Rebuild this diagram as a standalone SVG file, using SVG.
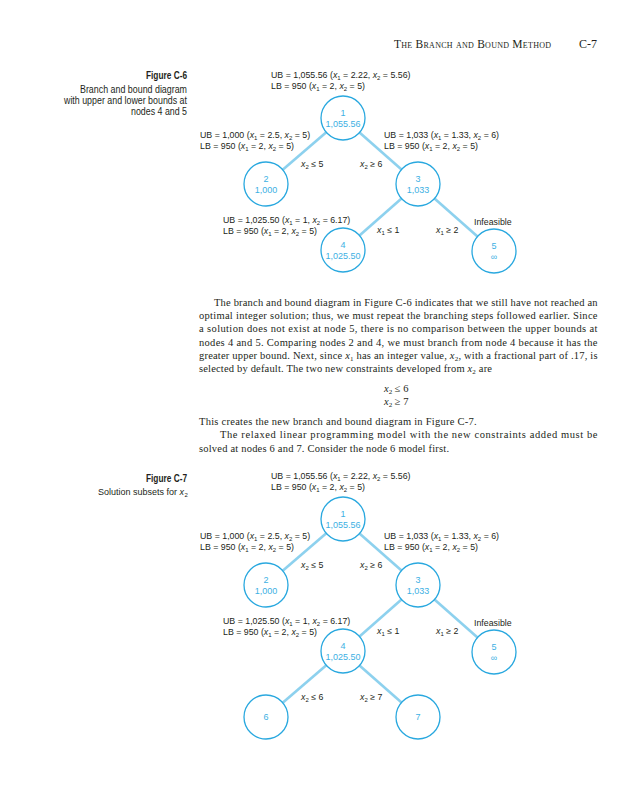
<svg xmlns="http://www.w3.org/2000/svg" width="638" height="798" viewBox="0 0 638 798">
<style>
.bg{fill:#ffffff}
.node circle{fill:#ffffff;stroke:#29a8df;stroke-width:1.3}
.nt{font-family:"Liberation Sans",Arial,sans-serif;font-size:9px;fill:#3db0e3;text-anchor:middle}
.lbl{font-family:"Liberation Sans",Arial,sans-serif;font-size:8.8px;fill:#231f20}
.edges line{stroke:#8dd1ee;stroke-width:2.6;stroke-linecap:butt}
.body{font-family:"Liberation Serif","Times New Roman",serif;font-size:10.5px;fill:#231f20}
.cap{font-family:"Liberation Sans Narrow","Liberation Sans",Arial,sans-serif;font-size:10.5px;fill:#231f20}
.capb{font-family:"Liberation Sans Narrow","Liberation Sans",Arial,sans-serif;font-size:10.5px;font-weight:bold;fill:#231f20}
.caps{font-family:"Liberation Sans Narrow","Liberation Sans",Arial,sans-serif;font-size:9px;fill:#231f20}
.hdr{font-family:"Liberation Serif","Times New Roman",serif;font-size:11.5px;fill:#231f20}
.i{font-style:italic}
.sb{font-size:6px}
.sbs{font-size:7px}
</style>
<rect class="bg" x="0" y="0" width="638" height="798"/>

<!-- header -->
<text class="hdr" x="394" y="48" style="font-variant:small-caps" textLength="157" lengthAdjust="spacing">The Branch and Bound Method</text>
<text class="hdr" x="597" y="48" text-anchor="end" style="font-size:12px">C-7</text>

<!-- Figure C-6 caption -->
<g id="caption-c6">
<text class="capb" x="146" y="78.5" textLength="41" lengthAdjust="spacingAndGlyphs">Figure C-6</text>
<text class="cap" x="80" y="92.5" textLength="107" lengthAdjust="spacingAndGlyphs">Branch and bound diagram</text>
<text class="cap" x="64" y="103.5" textLength="123" lengthAdjust="spacingAndGlyphs">with upper and lower bounds at</text>
<text class="cap" x="131" y="114.5" textLength="56" lengthAdjust="spacingAndGlyphs">nodes 4 and 5</text>
</g>

<!-- Figure C-6 connectors -->
<g id="edges-c6" class="edges">
<line x1="326.3" y1="132.3" x2="282.7" y2="169.7"/>
<line x1="359.5" y1="132.5" x2="401.5" y2="169.5"/>
<line x1="401.5" y1="198.5" x2="359.5" y2="235.5"/>
<line x1="434.5" y1="198.5" x2="477.5" y2="236.5"/>
</g>

<!-- Figure C-6 nodes -->
<g id="c6-node1" class="node"><circle cx="343" cy="118" r="22"/><text class="nt" x="343" y="115.5">1</text><text class="nt" x="343" y="126.5">1,055.56</text></g>
<g id="c6-node2" class="node"><circle cx="266" cy="184" r="22"/><text class="nt" x="266" y="181.5">2</text><text class="nt" x="266" y="192.5">1,000</text></g>
<g id="c6-node3" class="node"><circle cx="418" cy="184" r="22"/><text class="nt" x="418" y="181.5">3</text><text class="nt" x="418" y="192.5">1,033</text></g>
<g id="c6-node4" class="node"><circle cx="343" cy="250" r="22"/><text class="nt" x="343" y="247.5">4</text><text class="nt" x="343" y="258.5">1,025.50</text></g>
<g id="c6-node5" class="node"><circle cx="494" cy="251" r="22"/><text class="nt" x="494" y="248.5">5</text><text class="nt" x="494" y="259.5">∞</text></g>

<!-- Figure C-6 labels -->
<g id="labels-c6">
<text class="lbl" x="271" y="78">UB = 1,055.56 (<tspan class="i">x</tspan><tspan class="sb" dy="2">1</tspan><tspan dy="-2"> = 2.22, </tspan><tspan class="i">x</tspan><tspan class="sb" dy="2">2</tspan><tspan dy="-2"> = 5.56)</tspan></text>
<text class="lbl" x="271" y="88.5">LB = 950 (<tspan class="i">x</tspan><tspan class="sb" dy="2">1</tspan><tspan dy="-2"> = 2, </tspan><tspan class="i">x</tspan><tspan class="sb" dy="2">2</tspan><tspan dy="-2"> = 5)</tspan></text>
<text class="lbl" x="200" y="138.2">UB = 1,000 (<tspan class="i">x</tspan><tspan class="sb" dy="2">1</tspan><tspan dy="-2"> = 2.5, </tspan><tspan class="i">x</tspan><tspan class="sb" dy="2">2</tspan><tspan dy="-2"> = 5)</tspan></text>
<text class="lbl" x="200" y="148.7">LB = 950 (<tspan class="i">x</tspan><tspan class="sb" dy="2">1</tspan><tspan dy="-2"> = 2, </tspan><tspan class="i">x</tspan><tspan class="sb" dy="2">2</tspan><tspan dy="-2"> = 5)</tspan></text>
<text class="lbl" x="384" y="138.2">UB = 1,033 (<tspan class="i">x</tspan><tspan class="sb" dy="2">1</tspan><tspan dy="-2"> = 1.33, </tspan><tspan class="i">x</tspan><tspan class="sb" dy="2">2</tspan><tspan dy="-2"> = 6)</tspan></text>
<text class="lbl" x="384" y="148.7">LB = 950 (<tspan class="i">x</tspan><tspan class="sb" dy="2">1</tspan><tspan dy="-2"> = 2, </tspan><tspan class="i">x</tspan><tspan class="sb" dy="2">2</tspan><tspan dy="-2"> = 5)</tspan></text>
<text class="lbl" x="301" y="167.2"><tspan class="i">x</tspan><tspan class="sb" dy="2">2</tspan><tspan dy="-2"> ≤ 5</tspan></text>
<text class="lbl" x="360" y="167.2"><tspan class="i">x</tspan><tspan class="sb" dy="2">2</tspan><tspan dy="-2"> ≥ 6</tspan></text>
<text class="lbl" x="223" y="223.2">UB = 1,025.50 (<tspan class="i">x</tspan><tspan class="sb" dy="2">1</tspan><tspan dy="-2"> = 1, </tspan><tspan class="i">x</tspan><tspan class="sb" dy="2">2</tspan><tspan dy="-2"> = 6.17)</tspan></text>
<text class="lbl" x="223" y="233.5">LB = 950 (<tspan class="i">x</tspan><tspan class="sb" dy="2">1</tspan><tspan dy="-2"> = 2, </tspan><tspan class="i">x</tspan><tspan class="sb" dy="2">2</tspan><tspan dy="-2"> = 5)</tspan></text>
<text class="lbl" x="377" y="232.5"><tspan class="i">x</tspan><tspan class="sb" dy="2">1</tspan><tspan dy="-2"> ≤ 1</tspan></text>
<text class="lbl" x="436" y="232.5"><tspan class="i">x</tspan><tspan class="sb" dy="2">1</tspan><tspan dy="-2"> ≥ 2</tspan></text>
<text class="lbl" x="474" y="225">Infeasible</text>
</g>

<!-- body text -->
<g id="body-text">
<text class="body" x="214" y="306" textLength="383.5" lengthAdjust="spacing">The branch and bound diagram in Figure C-6 indicates that we still have not reached an</text>
<text class="body" x="199" y="319.2" textLength="398.5" lengthAdjust="spacing">optimal integer solution; thus, we must repeat the branching steps followed earlier. Since</text>
<text class="body" x="199" y="332.4" textLength="398.5" lengthAdjust="spacing">a solution does not exist at node 5, there is no comparison between the upper bounds at</text>
<text class="body" x="199" y="345.6" textLength="398.5" lengthAdjust="spacing">nodes 4 and 5. Comparing nodes 2 and 4, we must branch from node 4 because it has the</text>
<text class="body" x="199" y="358.8" textLength="398.5" lengthAdjust="spacing">greater upper bound. Next, since <tspan class="i">x</tspan><tspan class="sbs" dy="2">1</tspan><tspan dy="-2"> has an integer value, </tspan><tspan class="i">x</tspan><tspan class="sbs" dy="2">2</tspan><tspan dy="-2">, with a fractional part of .17, is</tspan></text>
<text class="body" x="199" y="372" textLength="293" lengthAdjust="spacing">selected by default. The two new constraints developed from <tspan class="i">x</tspan><tspan class="sbs" dy="2">2</tspan><tspan dy="-2"> are</tspan></text>
<text class="body" x="384" y="392"><tspan class="i">x</tspan><tspan class="sbs" dy="2">2</tspan><tspan dy="-2"> ≤ 6</tspan></text>
<text class="body" x="384" y="404.5"><tspan class="i">x</tspan><tspan class="sbs" dy="2">2</tspan><tspan dy="-2"> ≥ 7</tspan></text>
<text class="body" x="199" y="425" textLength="277.7" lengthAdjust="spacing">This creates the new branch and bound diagram in Figure C-7.</text>
<text class="body" x="220" y="438.3" textLength="377.5" lengthAdjust="spacing">The relaxed linear programming model with the new constraints added must be</text>
<text class="body" x="199" y="451.5" textLength="250" lengthAdjust="spacing">solved at nodes 6 and 7. Consider the node 6 model first.</text>
</g>

<!-- Figure C-7 caption -->
<g id="caption-c7">
<text class="capb" x="146" y="481.5" textLength="41" lengthAdjust="spacingAndGlyphs">Figure C-7</text>
<text class="caps" x="98" y="495">Solution subsets for <tspan class="i">x</tspan><tspan class="sb" dx="0.5" dy="2">2</tspan></text>
</g>

<!-- Figure C-7 connectors -->
<g id="edges-c7" class="edges">
<line x1="326.3" y1="533.3" x2="282.7" y2="570.7"/>
<line x1="359.5" y1="533.5" x2="401.5" y2="570.5"/>
<line x1="401.5" y1="599.5" x2="359.5" y2="636.5"/>
<line x1="434.5" y1="599.5" x2="477.5" y2="637.5"/>
<line x1="326.3" y1="665.3" x2="282.7" y2="702.7"/>
<line x1="359.5" y1="665.5" x2="401.5" y2="702.5"/>
</g>

<!-- Figure C-7 nodes -->
<g id="c7-node1" class="node"><circle cx="343" cy="519" r="22"/><text class="nt" x="343" y="516.5">1</text><text class="nt" x="343" y="527.5">1,055.56</text></g>
<g id="c7-node2" class="node"><circle cx="266" cy="585" r="22"/><text class="nt" x="266" y="582.5">2</text><text class="nt" x="266" y="593.5">1,000</text></g>
<g id="c7-node3" class="node"><circle cx="418" cy="585" r="22"/><text class="nt" x="418" y="582.5">3</text><text class="nt" x="418" y="593.5">1,033</text></g>
<g id="c7-node4" class="node"><circle cx="343" cy="651" r="22"/><text class="nt" x="343" y="648.5">4</text><text class="nt" x="343" y="659.5">1,025.50</text></g>
<g id="c7-node5" class="node"><circle cx="494" cy="652" r="22"/><text class="nt" x="494" y="649.5">5</text><text class="nt" x="494" y="660.5">∞</text></g>
<g id="c7-node6" class="node"><circle cx="266" cy="717" r="22"/><text class="nt" x="266" y="720">6</text></g>
<g id="c7-node7" class="node"><circle cx="418" cy="717" r="22"/><text class="nt" x="418" y="720">7</text></g>

<!-- Figure C-7 labels -->
<g id="labels-c7">
<text class="lbl" x="271" y="479">UB = 1,055.56 (<tspan class="i">x</tspan><tspan class="sb" dy="2">1</tspan><tspan dy="-2"> = 2.22, </tspan><tspan class="i">x</tspan><tspan class="sb" dy="2">2</tspan><tspan dy="-2"> = 5.56)</tspan></text>
<text class="lbl" x="271" y="489.5">LB = 950 (<tspan class="i">x</tspan><tspan class="sb" dy="2">1</tspan><tspan dy="-2"> = 2, </tspan><tspan class="i">x</tspan><tspan class="sb" dy="2">2</tspan><tspan dy="-2"> = 5)</tspan></text>
<text class="lbl" x="200" y="539.2">UB = 1,000 (<tspan class="i">x</tspan><tspan class="sb" dy="2">1</tspan><tspan dy="-2"> = 2.5, </tspan><tspan class="i">x</tspan><tspan class="sb" dy="2">2</tspan><tspan dy="-2"> = 5)</tspan></text>
<text class="lbl" x="200" y="549.7">LB = 950 (<tspan class="i">x</tspan><tspan class="sb" dy="2">1</tspan><tspan dy="-2"> = 2, </tspan><tspan class="i">x</tspan><tspan class="sb" dy="2">2</tspan><tspan dy="-2"> = 5)</tspan></text>
<text class="lbl" x="384" y="539.2">UB = 1,033 (<tspan class="i">x</tspan><tspan class="sb" dy="2">1</tspan><tspan dy="-2"> = 1.33, </tspan><tspan class="i">x</tspan><tspan class="sb" dy="2">2</tspan><tspan dy="-2"> = 6)</tspan></text>
<text class="lbl" x="384" y="549.7">LB = 950 (<tspan class="i">x</tspan><tspan class="sb" dy="2">1</tspan><tspan dy="-2"> = 2, </tspan><tspan class="i">x</tspan><tspan class="sb" dy="2">2</tspan><tspan dy="-2"> = 5)</tspan></text>
<text class="lbl" x="301" y="568.2"><tspan class="i">x</tspan><tspan class="sb" dy="2">2</tspan><tspan dy="-2"> ≤ 5</tspan></text>
<text class="lbl" x="360" y="568.2"><tspan class="i">x</tspan><tspan class="sb" dy="2">2</tspan><tspan dy="-2"> ≥ 6</tspan></text>
<text class="lbl" x="223" y="624.2">UB = 1,025.50 (<tspan class="i">x</tspan><tspan class="sb" dy="2">1</tspan><tspan dy="-2"> = 1, </tspan><tspan class="i">x</tspan><tspan class="sb" dy="2">2</tspan><tspan dy="-2"> = 6.17)</tspan></text>
<text class="lbl" x="223" y="634.5">LB = 950 (<tspan class="i">x</tspan><tspan class="sb" dy="2">1</tspan><tspan dy="-2"> = 2, </tspan><tspan class="i">x</tspan><tspan class="sb" dy="2">2</tspan><tspan dy="-2"> = 5)</tspan></text>
<text class="lbl" x="377" y="633.5"><tspan class="i">x</tspan><tspan class="sb" dy="2">1</tspan><tspan dy="-2"> ≤ 1</tspan></text>
<text class="lbl" x="436" y="633.5"><tspan class="i">x</tspan><tspan class="sb" dy="2">1</tspan><tspan dy="-2"> ≥ 2</tspan></text>
<text class="lbl" x="474" y="626">Infeasible</text>
<text class="lbl" x="301" y="699.8"><tspan class="i">x</tspan><tspan class="sb" dy="2">2</tspan><tspan dy="-2"> ≤ 6</tspan></text>
<text class="lbl" x="360" y="699.8"><tspan class="i">x</tspan><tspan class="sb" dy="2">2</tspan><tspan dy="-2"> ≥ 7</tspan></text>
</g>
</svg>
